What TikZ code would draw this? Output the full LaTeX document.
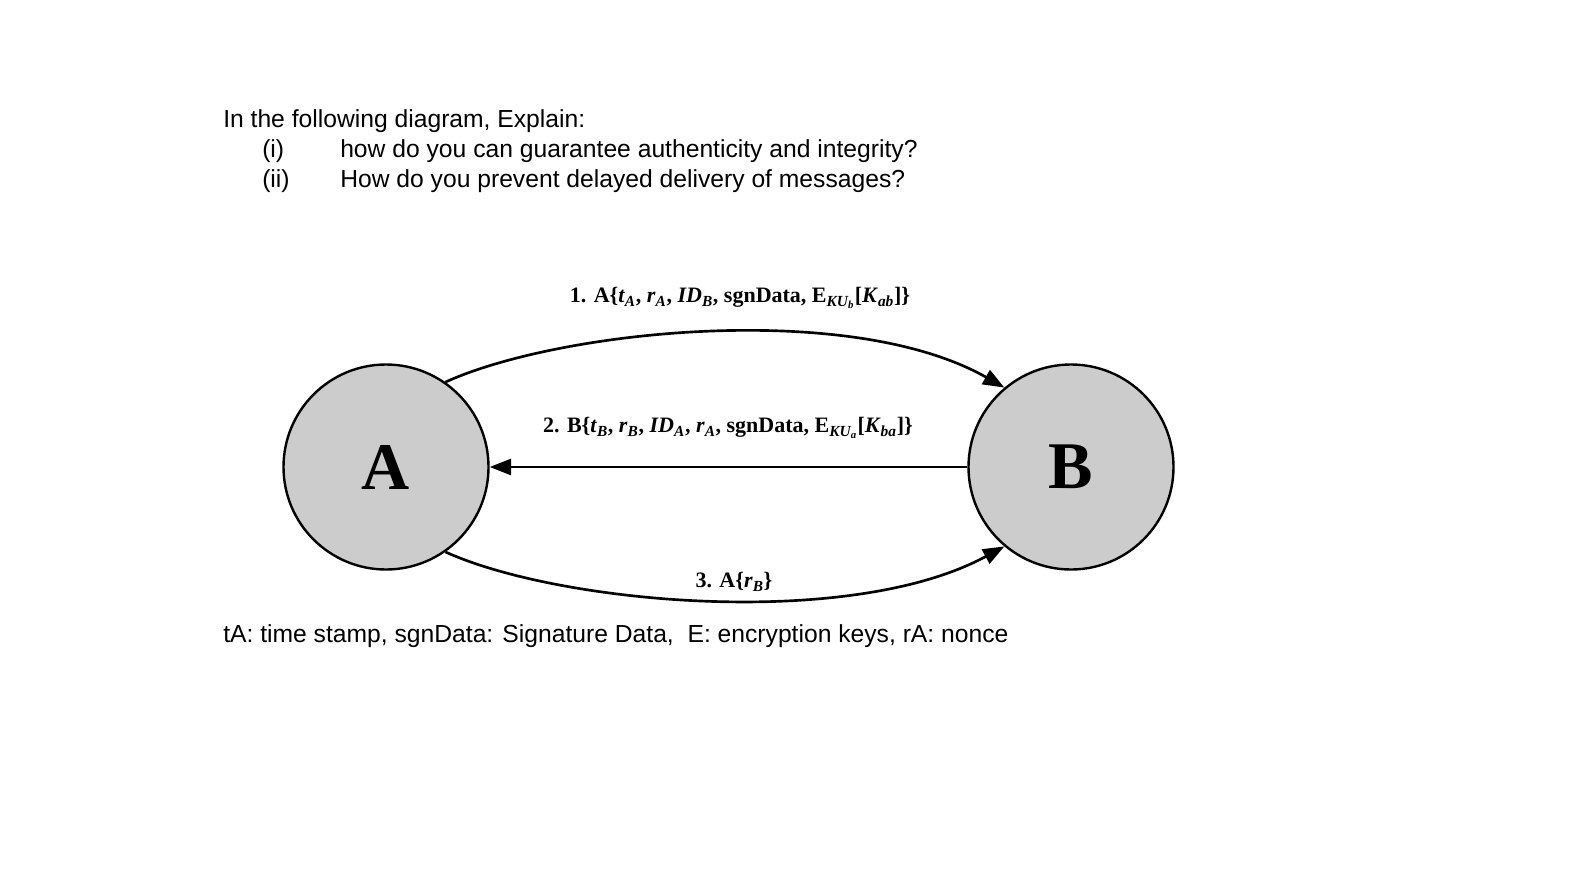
\documentclass[tikz,border=0pt]{standalone}
\usepackage{fontspec}
\setmainfont{Liberation Serif}
\newfontfamily\qfont{Liberation Sans}
\usetikzlibrary{arrows.meta}
\newcommand{\sbx}[1]{\textsubscript{\textit{#1}}}
\begin{document}
\begin{tikzpicture}[x=0.75pt,y=-0.75pt,
  party/.style={circle,draw,line width=1.8pt,fill=black!20,minimum size=205*0.75pt,inner sep=0pt,font=\fontsize{50}{50}\selectfont\bfseries},
  msg/.style={line width=2pt,-{Triangle[length=16pt,width=12pt]}},
  lbl/.style={font=\fontsize{16.5}{18}\selectfont\bfseries},
  qtxt/.style={anchor=west,inner sep=0pt,font=\qfont\fontsize{18.5}{20}\selectfont}]
\useasboundingbox (0,0) rectangle (1587,881);
\node[qtxt] (q0) at (223,121) {In the following diagram, Explain:};
\node[qtxt] (q1) at (262,151) {(i)};
\node[qtxt] (q1t) at (340,151) {how do you can guarantee authenticity and integrity?};
\node[qtxt] (q2) at (262,181) {(ii)};
\node[qtxt] (q2t) at (340,181) {How do you prevent delayed delivery of messages?};
\node[qtxt] (foot) at (223,636) {tA: time stamp, sgnData: Signature Data,\ \ E: encryption keys, rA: nonce};
\node[party] (A) at (386,467) {A};
\node[party] (B) at (1071,467) {B};
\draw[msg] (A.55) .. controls (560,330) and (850,300) .. (B.130);
\draw[msg] (B.west) -- (A.east);
\draw[msg] (A.-55) .. controls (560,604) and (850,630) .. (B.-130);
\node[lbl] (l1) at (740,298) {1. A\{\textit{t}\sbx{A}, \textit{r}\sbx{A}, \textit{ID}\sbx{B}, sgnData, E\textsubscript{\textit{KU\textsubscript{b}}}[\textit{K}\sbx{ab}]\}};
\node[lbl] (l2) at (728,428) {2. B\{\textit{t}\sbx{B}, \textit{r}\sbx{B}, \textit{ID}\sbx{A}, \textit{r}\sbx{A}, sgnData, E\textsubscript{\textit{KU\textsubscript{a}}}[\textit{K}\sbx{ba}]\}};
\node[lbl] (l3) at (734,582) {3. A\{\textit{r}\sbx{B}\}};
\end{tikzpicture}
\end{document}
